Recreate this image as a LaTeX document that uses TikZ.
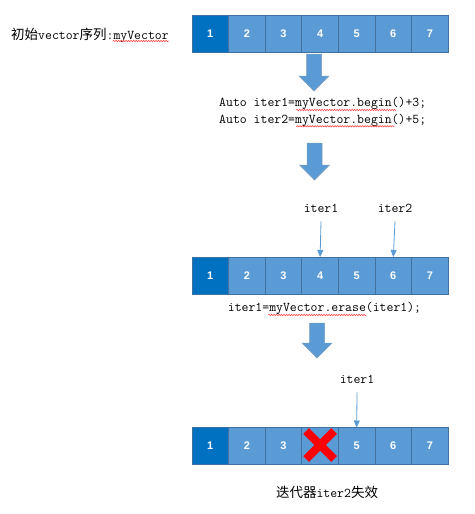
\documentclass[tikz,border=0pt]{standalone}
\usepackage{fontspec}
\setsansfont{Liberation Sans}
\newfontfamily\cjk{Noto Sans CJK SC}
\usetikzlibrary{positioning,arrows.meta,decorations.pathmorphing}
\definecolor{cellblue}{HTML}{5B9BD5}
\definecolor{headblue}{HTML}{0070C0}
\definecolor{celledge}{HTML}{41719C}
\tikzset{cell/.style={draw=celledge, fill=cellblue, line width=0.8pt, minimum width=36.6pt, minimum height=37pt, inner sep=0pt, outer sep=0pt, text=white, font=\sffamily\bfseries\fontsize{11}{13}\selectfont},
first/.style={cell, fill=headblue},
code/.style={font=\ttfamily\fontsize{13.4}{15}\selectfont, inner sep=0pt},
ptr/.style={-{Triangle[length=7pt,width=6pt]}, draw=cellblue, line width=0.8pt},
squiggle/.style={red!80, line width=0.5pt, decorate, decoration={snake, amplitude=0.7pt, segment length=2.5pt}},
blockarrow/.style={fill=cellblue, draw=celledge!70, line width=0.5pt}}
\newcommand\cn[1]{{\cjk\fontsize{13.5}{15}\selectfont #1}}
\newcommand\downblock[3]{\path[blockarrow] (#1-7.5,#2) -- (#1+7.5,#2) -- (#1+7.5,#3-15) -- (#1+15,#3-15) -- (#1,#3) -- (#1-15,#3-15) -- (#1-7.5,#3-15) -- cycle;}

\begin{document}
\begin{tikzpicture}[x=1pt, y=-1pt]
\useasboundingbox (0,0) rectangle (474,514);
%initial vector
\node[code, anchor=west] (title) at (11,35) {\cn{初始}vector\cn{序列}:myVector};
\draw[squiggle] (title.east) ++(-56,6) coordinate (sq0) -- ++(56,0);
\node[first] (a1) at (210.3,33.5) {1};
\node[cell, right=0pt of a1] (a2) {2};
\node[cell, right=0pt of a2] (a3) {3};
\node[cell, right=0pt of a3] (a4) {4};
\node[cell, right=0pt of a4] (a5) {5};
\node[cell, right=0pt of a5] (a6) {6};
\node[cell, right=0pt of a6] (a7) {7};
\downblock{314}{54}{91}
\node[code, anchor=west] (line1) at (219,103) {Auto iter1=myVector.begin()+3;};
\node[code, anchor=west] (line2) at (219,120) {Auto iter2=myVector.begin()+5;};
\draw[squiggle] (296.3,110) -- (394.7,110) (296.3,127) -- (394.7,127);
\downblock{314.5}{143}{180}
%before erase
\node[first] (b1) at (210.3,275.5) {1};
\node[cell, right=0pt of b1] (b2) {2};
\node[cell, right=0pt of b2] (b3) {3};
\node[cell, right=0pt of b3] (b4) {4};
\node[cell, right=0pt of b4] (b5) {5};
\node[cell, right=0pt of b5] (b6) {6};
\node[cell, right=0pt of b6] (b7) {7};
\node[code] (it1) at (321,208) {iter1};
\node[code] (it2) at (395,208) {iter2};
\draw[ptr] (it1.south) ++(0,9) coordinate (it1s) -- (b4.north);
\draw[ptr] (it2.south) ++(0,9) coordinate (it2s) -- (b6.north);
\node[code] (erase) at (324.5,308) {iter1=myVector.erase(iter1);};
\draw[squiggle] (268.3,315) -- (366.7,315);
\downblock{317}{323}{358}
%after erase
\node[first] (c1) at (210.3,446) {1};
\node[cell, right=0pt of c1] (c2) {2};
\node[cell, right=0pt of c2] (c3) {3};
\node[cell, right=0pt of c3] (c4) {};
\node[cell, right=0pt of c4] (c5) {5};
\node[cell, right=0pt of c5] (c6) {6};
\node[cell, right=0pt of c6] (c7) {7};
\node[code] (it1b) at (357,379) {iter1};
\draw[ptr] (it1b.south) ++(0,9) coordinate (it1bs) -- (c5.north);
\draw[red, line width=8pt] ([shift={(-14,-15)}]c4.center) -- ([shift={(14,13)}]c4.center)
  ([shift={(14,-15)}]c4.center) -- ([shift={(-14,13)}]c4.center);
\node[code] (invalid) at (327,492) {\cn{迭代器}iter2\cn{失效}};
\end{tikzpicture}
\end{document}
